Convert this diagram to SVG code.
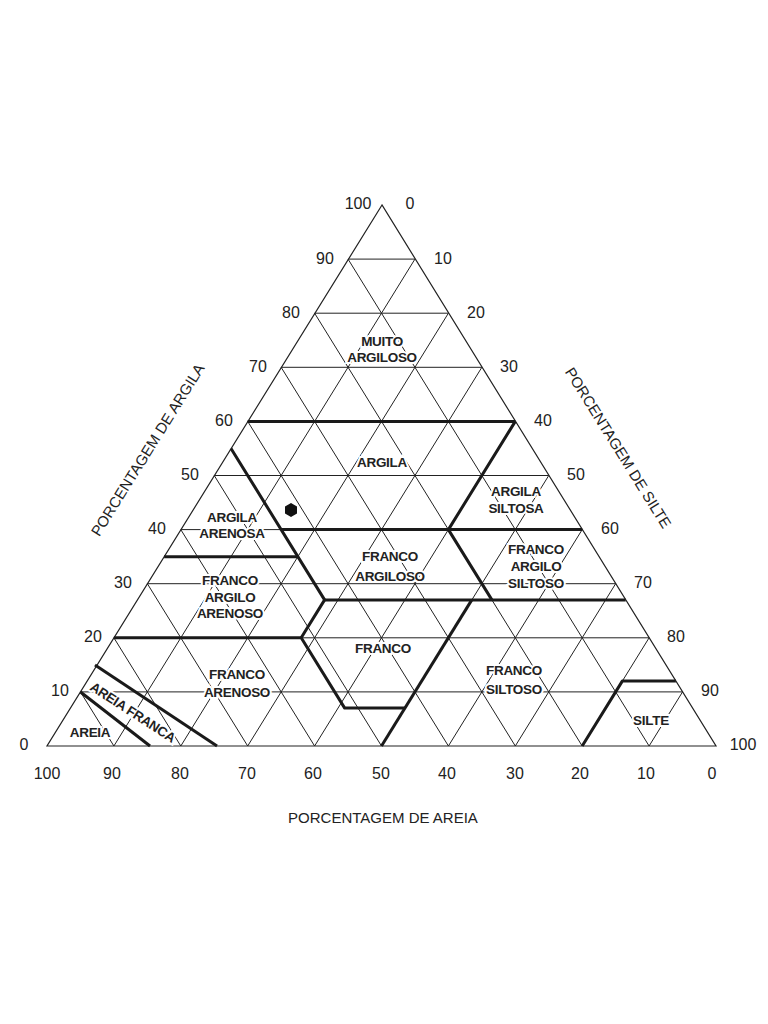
<svg xmlns="http://www.w3.org/2000/svg" width="768" height="1024" viewBox="0 0 768 1024">
<style>
.g{stroke:#222;stroke-width:1;fill:none}
.t{stroke:#1a1a1a;stroke-width:3;fill:none;stroke-linejoin:round}
.n{font-family:"Liberation Sans",Arial,sans-serif;font-size:16px;fill:#222}
.l{font-family:"Liberation Sans",Arial,sans-serif;font-size:13.5px;font-weight:bold;fill:#222;text-anchor:middle;stroke:#fff;stroke-width:4;paint-order:stroke;letter-spacing:-0.3px}
.a{font-family:"Liberation Sans",Arial,sans-serif;font-size:15px;fill:#222;text-anchor:middle}
</style>
<rect width="768" height="1024" fill="#fff"/>
<g id="grid" class="g">
<polygon points="382,205 47,746 716,746" stroke-width="1.2"/>
<path d="M80.45,691.9H682.55M113.9,637.8H649.1M147.35,583.7H615.65M180.8,529.6H582.2M214.25,475.5H548.75M247.7,421.4H515.3M281.15,367.3H481.85M314.6,313.2H448.4M348.05,259.1H414.95"/>
<path d="M113.9,746L80.45,691.9M180.8,746L113.9,637.8M247.7,746L147.35,583.7M314.6,746L180.8,529.6M381.5,746L214.25,475.5M448.4,746L247.7,421.4M515.3,746L281.15,367.3M582.2,746L314.6,313.2M649.1,746L348.05,259.1"/>
<path d="M649.1,746L682.55,691.9M582.2,746L649.1,637.8M515.3,746L615.65,583.7M448.4,746L582.2,529.6M381.5,746L548.75,475.5M314.6,746L515.3,421.4M247.7,746L481.85,367.3M180.8,746L448.4,313.2M113.9,746L414.95,259.1"/>
</g>
<g id="connectors" class="t">
<path d="M247.7,421.4H515.3"/>
<path d="M231,448.5L324.6,599.9L301.2,637.8"/>
<path d="M281.2,529.6H582.2"/>
<path d="M164.1,556.7H297.9"/>
<path d="M515.3,421.4L448.4,529.6L491.9,599.9"/>
<path d="M324.6,599.9H625.7"/>
<path d="M113.9,637.8H301.2L344.7,708.1H404.9"/>
<path d="M471.8,599.9L381.5,746"/>
<path d="M582.2,746L622.3,681.1H675.9"/>
<path d="M80.5,692L150,746"/>
<path d="M95,665L217,746"/>
</g>
<g id="dot"><polygon points="291,503 297,506.5 297,513.5 291,517 285,513.5 285,506.5" fill="#111"/></g>
<g id="labels">
<text class="l" x="382" y="346">MUITO</text><text class="l" x="382" y="362">ARGILOSO</text>
<text class="l" x="382" y="467">ARGILA</text>
<text class="l" x="516" y="496">ARGILA</text><text class="l" x="516" y="513">SILTOSA</text>
<text class="l" x="232" y="522">ARGILA</text><text class="l" x="232" y="538">ARENOSA</text>
<text class="l" x="390" y="561">FRANCO</text><text class="l" x="390" y="581">ARGILOSO</text>
<text class="l" x="536" y="554">FRANCO</text><text class="l" x="536" y="571">ARGILO</text><text class="l" x="536" y="588">SILTOSO</text>
<text class="l" x="230" y="585">FRANCO</text><text class="l" x="230" y="602">ARGILO</text><text class="l" x="230" y="618">ARENOSO</text>
<text class="l" x="383" y="653">FRANCO</text>
<text class="l" x="237" y="679">FRANCO</text><text class="l" x="237" y="697">ARENOSO</text>
<text class="l" x="514" y="675">FRANCO</text><text class="l" x="514" y="694">SILTOSO</text>
<text class="l" x="651" y="725">SILTE</text>
<text class="l" x="90" y="737">AREIA</text>
<text class="l" x="133" y="717" transform="rotate(33 133 712)">AREIA FRANCA</text>
</g>
<g id="ticks" class="n">
<text x="358" y="209" text-anchor="middle">100</text><text x="325" y="264" text-anchor="middle">90</text><text x="291" y="318" text-anchor="middle">80</text><text x="258" y="372" text-anchor="middle">70</text><text x="224" y="426" text-anchor="middle">60</text><text x="190" y="480" text-anchor="middle">50</text><text x="157" y="534" text-anchor="middle">40</text><text x="123" y="588" text-anchor="middle">30</text><text x="93" y="642" text-anchor="middle">20</text><text x="60" y="696" text-anchor="middle">10</text><text x="24" y="750" text-anchor="middle">0</text>
<text x="410" y="209" text-anchor="middle">0</text><text x="443" y="264" text-anchor="middle">10</text><text x="476" y="318" text-anchor="middle">20</text><text x="509" y="372" text-anchor="middle">30</text><text x="543" y="426" text-anchor="middle">40</text><text x="576" y="480" text-anchor="middle">50</text><text x="610" y="534" text-anchor="middle">60</text><text x="643" y="588" text-anchor="middle">70</text><text x="676" y="642" text-anchor="middle">80</text><text x="710" y="696" text-anchor="middle">90</text><text x="743" y="750" text-anchor="middle">100</text>
<text x="47" y="779" text-anchor="middle">100</text><text x="112" y="779" text-anchor="middle">90</text><text x="180" y="779" text-anchor="middle">80</text><text x="247" y="779" text-anchor="middle">70</text><text x="313" y="779" text-anchor="middle">60</text><text x="381" y="779" text-anchor="middle">50</text><text x="447" y="779" text-anchor="middle">40</text><text x="515" y="779" text-anchor="middle">30</text><text x="580" y="779" text-anchor="middle">20</text><text x="646" y="779" text-anchor="middle">10</text><text x="712" y="779" text-anchor="middle">0</text>
</g>
<g id="axes">
<text class="a" x="148" y="455" transform="rotate(-58 148 450)">PORCENTAGEM DE ARGILA</text>
<text class="a" x="618" y="453" transform="rotate(58 618 448)">PORCENTAGEM DE SILTE</text>
<text class="a" x="383" y="823">PORCENTAGEM DE AREIA</text>
</g>
</svg>
